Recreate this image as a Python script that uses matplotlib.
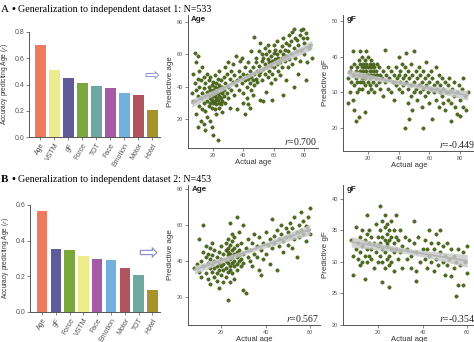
import numpy as np
import matplotlib
matplotlib.use("Agg")
import matplotlib.pyplot as plt

plt.rcParams['font.family'] = ['Liberation Sans', 'DejaVu Sans']
plt.rcParams['mathtext.fontset'] = 'stix'

W, H = 474, 342

# ===== Bar data =====
labels_a = ["Age", "VSTM", "gF", "Force", "TOT", "Face", "Emotion", "Motor", "Hotel"]
values_a = [0.70, 0.51, 0.45, 0.41, 0.385, 0.37, 0.335, 0.32, 0.205]
labels_b = ["Age", "gF", "Force", "VSTM", "Face", "Emotion", "Motor", "TOT", "Hotel"]
values_b = [0.565, 0.355, 0.35, 0.315, 0.295, 0.29, 0.245, 0.21, 0.125]

task_colors = {
    "Age": "#F07A5D", "VSTM": "#ECEC8C", "gF": "#5E5A9C", "Force": "#7AA83C",
    "TOT": "#6DA9A1", "Face": "#A65BA6", "Emotion": "#72B1DD", "Motor": "#B0545E",
    "Hotel": "#A8922A",
}

# ===== Scatter data (actual age, predicted) =====
age_a = [
    (6, 36), (7, 31), (7, 48), (8, 61), (8, 42), (9, 55), (9, 23), (9, 38), (10, 59), (10, 34),
    (10, 15), (10, 45), (11, 28), (11, 50), (11, 40), (12, 19), (12, 33), (12, 44), (13, 36), (13, 26),
    (13, 52), (14, 17), (14, 30), (14, 39), (14, 46), (15, 13), (15, 34), (15, 42), (15, 25), (16, 37),
    (16, 31), (16, 48), (16, 21), (17, 35), (17, 40), (17, 28), (17, 44), (18, 33), (18, 38), (18, 30),
    (18, 19), (18, 46), (19, 36), (19, 32), (19, 41), (19, 27), (19, 15), (20, 34), (20, 38), (20, 30),
    (20, 43), (20, 10), (20, 36), (21, 35), (21, 40), (21, 31), (21, 26), (21, 47), (22, 33), (22, 37),
    (22, 29), (22, 42), (22, 23), (23, 36), (23, 32), (23, 7), (23, 39), (23, 45), (24, 34), (24, 30),
    (24, 41), (24, 27), (24, 50), (25, 37), (25, 33), (25, 44), (25, 29), (26, 36), (26, 40), (26, 31),
    (26, 24), (27, 38), (27, 46), (27, 34), (28, 42), (28, 30), (28, 52), (29, 36), (29, 48), (30, 40),
    (30, 33), (30, 55), (31, 27), (31, 45), (32, 50), (32, 38), (33, 43), (33, 54), (34, 35), (34, 47),
    (35, 59), (35, 41), (36, 26), (36, 44), (37, 38), (37, 50), (38, 46), (38, 56), (39, 42), (39, 58),
    (40, 36), (40, 48), (40, 30), (41, 44), (41, 23), (41, 52), (42, 40), (42, 47), (42, 33), (43, 45),
    (43, 29), (43, 55), (44, 42), (44, 50), (44, 27), (45, 38), (45, 46), (45, 62), (46, 44), (46, 52),
    (46, 35), (47, 48), (47, 71), (47, 41), (48, 55), (48, 45), (48, 58), (49, 50), (49, 43), (50, 62),
    (50, 47), (50, 53), (51, 67), (51, 32), (51, 49), (52, 56), (52, 44), (52, 60), (53, 51), (53, 31),
    (53, 58), (54, 64), (54, 48), (54, 54), (55, 37), (55, 52), (55, 60), (56, 57), (56, 46), (56, 66),
    (57, 50), (57, 55), (57, 62), (58, 53), (58, 42), (58, 59), (59, 32), (59, 56), (59, 48), (60, 61),
    (60, 52), (60, 66), (61, 57), (61, 45), (61, 63), (62, 54), (62, 60), (62, 68), (63, 50), (63, 58),
    (64, 62), (64, 47), (64, 55), (65, 65), (65, 58), (65, 52), (66, 35), (66, 60), (66, 70), (67, 56),
    (67, 63), (68, 44), (68, 67), (68, 59), (69, 62), (69, 52), (70, 66), (70, 72), (70, 57), (71, 60),
    (71, 68), (72, 54), (72, 74), (73, 40), (73, 64), (73, 76), (74, 58), (74, 70), (75, 69), (75, 62),
    (76, 48), (76, 66), (77, 72), (77, 56), (78, 63), (78, 75), (79, 70), (79, 76), (80, 60), (80, 67),
    (81, 73), (81, 44), (82, 55), (82, 70), (83, 64), (84, 66), (85, 58),
]

gf_a = [
    (7, 27), (7, 34), (8, 36), (8, 30), (9, 33), (9, 37), (10, 41.5), (10, 28), (10, 35), (11, 25),
    (11, 32), (11, 38), (12, 22), (12, 34), (12, 36), (13, 30), (13, 37), (13, 33), (14, 23), (14, 35),
    (14, 39), (14, 31), (15, 41.5), (15, 36), (15, 33), (15, 38), (16, 34), (16, 37), (16, 31), (16, 40),
    (17, 35), (17, 38), (17, 33), (17, 36), (18, 24.5), (18, 37), (18, 34), (18, 39), (18, 32), (19, 41.5),
    (19, 36), (19, 35), (19, 38), (20, 33), (20, 37), (20, 40), (20, 35), (20, 30), (21, 36), (21, 38),
    (21, 34), (21, 32), (22, 39), (22, 35), (22, 37), (22, 31), (23, 36), (23, 33), (23, 38), (24, 35),
    (24, 30), (24, 37), (25, 34), (25, 36), (25, 32), (26, 38), (26, 35), (27, 33), (27, 37), (28, 31),
    (28, 35), (29, 34), (30, 36), (30, 29), (31, 42), (31, 33), (32, 35), (33, 31), (33, 37), (34, 34),
    (35, 36), (35, 30), (36, 33), (37, 35), (37, 28), (38, 32), (38, 37), (39, 34), (40, 40), (40, 31),
    (40, 35), (41, 33), (41, 36), (42, 38), (42, 30), (43, 34), (43, 32), (44, 20), (44, 37), (44, 35),
    (45, 41), (45, 33), (46, 31), (46, 36), (46, 27), (47, 22.5), (47, 34), (48, 38), (48, 32), (48, 29),
    (49, 35), (49, 25), (50, 41.5), (50, 33), (50, 30), (51, 36), (51, 31), (52, 34), (52, 28), (53, 37),
    (53, 32), (54, 30), (54, 35), (55, 33), (55, 26), (56, 20), (56, 36), (56, 31), (57, 34), (57, 29),
    (58, 32), (58, 38.5), (59, 35), (59, 30), (60, 33), (60, 27), (61, 31), (61, 36), (62, 22.5), (62, 34),
    (63, 30), (63, 32), (64, 37), (64, 28), (65, 33), (65, 31), (66, 35), (66, 26), (67, 30), (67, 32),
    (68, 34), (68, 29), (69, 27), (69, 31), (70, 33), (70, 25), (71, 30), (72, 32), (72, 28), (73, 34),
    (73, 30), (74, 22), (74, 27), (75, 31), (76, 29), (76, 33), (77, 26), (78, 30), (78, 24), (79, 32),
    (80, 23.5), (80, 28), (81, 31), (82, 34), (82, 26), (83, 29), (84, 25), (85, 30),
]

age_b = [
    (8, 36), (9, 38), (10, 52), (10, 34), (11, 31), (11, 40), (12, 60), (12, 45), (12, 37), (13, 42),
    (13, 33), (13, 48), (14, 39), (14, 30), (14, 44), (15, 36), (15, 41), (15, 27), (15, 47), (16, 38),
    (16, 34), (16, 43), (16, 50), (17, 40), (17, 31), (17, 36), (17, 46), (18, 37), (18, 42), (18, 29),
    (18, 33), (19, 45), (19, 39), (19, 35), (19, 25), (20, 41), (20, 37), (20, 48), (20, 32), (21, 44),
    (21, 38), (21, 28), (21, 35), (22, 46), (22, 40), (22, 36), (22, 50), (22, 31), (23, 43), (23, 39),
    (23, 45), (23, 47), (23, 18.5), (23, 34), (23, 52), (24, 41), (24, 37), (24, 44), (24, 49), (24, 61),
    (24, 28), (24, 35), (25, 42), (25, 46), (25, 39), (25, 33), (25, 51), (25, 55), (26, 40), (26, 44),
    (26, 47), (26, 37), (26, 30), (26, 53), (27, 42), (27, 45), (27, 38), (27, 64), (27, 49), (27, 35),
    (28, 43), (28, 40), (28, 46), (28, 56), (29, 41), (29, 37), (29, 50), (30, 44), (30, 24), (30, 60),
    (30, 39), (31, 22), (31, 47), (32, 42), (32, 52), (33, 40), (33, 46), (34, 50), (34, 37), (35, 44),
    (35, 55), (36, 42), (36, 48), (37, 35), (37, 53), (38, 32), (38, 46), (39, 50), (39, 41), (40, 56),
    (40, 44), (41, 49), (42, 52), (42, 38), (43, 63), (43, 47), (44, 54), (44, 50), (45, 35), (45, 57),
    (46, 52), (46, 48), (47, 55), (47, 60), (48, 51), (48, 45), (49, 58), (49, 53), (50, 49), (50, 56),
    (51, 61), (51, 54), (52, 58), (52, 47), (53, 52), (53, 64), (54, 42), (54, 56), (55, 60), (55, 53),
    (56, 67), (56, 57), (57, 55), (57, 62), (58, 59), (58, 51), (59, 64), (59, 57), (60, 69), (60, 55),
]

gf_b = [
    (8, 33.5), (9, 31), (9, 28), (10, 35.5), (10, 32), (11, 30.5), (11, 33), (12, 29.5), (12, 34), (12, 31.5),
    (13, 35), (13, 32.5), (13, 30), (14, 27.3), (14, 33.5), (14, 31), (15, 34.5), (15, 32), (15, 30), (15, 37.5),
    (16, 33), (16, 31), (16, 35), (17, 32), (17, 34), (17, 30.5), (18, 29), (18, 33), (19, 31.5), (19, 36),
    (20, 34), (20, 30), (20, 32.5), (21, 35), (21, 33), (21, 31), (21, 38.8), (22, 34), (22, 32), (22, 36.5),
    (22, 30), (22, 26.8), (23, 33.5), (23, 35.5), (23, 31.5), (23, 29), (23, 37.5), (24, 34.5), (24, 32.5), (24, 30.5),
    (24, 36), (24, 33), (25, 35), (25, 31), (25, 26), (25, 33.5), (25, 29.5), (26, 34), (26, 32), (26, 36.5),
    (26, 30), (27, 33), (27, 35), (27, 31.5), (27, 28.5), (28, 37.5), (28, 34), (28, 32), (29, 30.5), (29, 33.5),
    (30, 35), (30, 31.5), (31, 32.5), (31, 29), (32, 34), (33, 30.5), (33, 32), (34, 33.5), (35, 31), (35, 29),
    (36, 33), (36, 36.5), (37, 28.5), (37, 27), (37, 31.5), (38, 34), (39, 30), (40, 32), (41, 30.5), (41, 33.5),
    (42, 32), (42, 29), (43, 35), (43, 31), (44, 33), (44, 30), (45, 32), (45, 28.5), (46, 34.5), (46, 30.5),
    (47, 33), (47, 29.5), (48, 31.5), (48, 35), (49, 30), (49, 32.5), (50, 28), (50, 31), (51, 33), (51, 29.5),
    (52, 30.5), (53, 27.8), (53, 32), (54, 31), (54, 29), (55, 24.6), (55, 30), (56, 26.3), (56, 32), (57, 29.5),
    (58, 26.3), (58, 31.5), (59, 30), (60, 28.2), (60, 32.5),
]

r_labels = ["r=0.700", "r=-0.449", "r=0.567", "r=-0.354"]

DOT = "#4E6B1E"
SPINE = "#555555"


def box(left, top, right, bottom):
    # pixel box -> figure fraction
    return [left / W, 1 - bottom / H, (right - left) / W, (bottom - top) / H]


def style_axes(ax, tick_size):
    for s in ["top", "right"]:
        ax.spines[s].set_visible(False)
    for s in ["left", "bottom"]:
        ax.spines[s].set_color(SPINE)
        ax.spines[s].set_linewidth(0.7)
    ax.tick_params(colors=SPINE, labelcolor="#555555", labelsize=tick_size,
                   length=2, width=0.5, pad=1.5)


def bar_panel(rect, labels, values, ymax, yticks, xlim):
    ax = fig.add_axes(rect)
    x = np.arange(len(labels))
    ax.bar(x, values, width=0.76, color=[task_colors[l] for l in labels])
    ax.set_xlim(*xlim)
    ax.set_ylim(0, ymax)
    ax.set_yticks(yticks)
    ax.set_yticklabels([f"{t:.1f}" for t in yticks])
    ax.set_xticks(x)
    ax.set_xticklabels(labels, rotation=60, ha="right", rotation_mode="anchor")
    style_axes(ax, 5)
    ax.set_ylabel(r"Accuracy predicting Age ($\mathit{r}$)", fontsize=4.8,
                  color="#333333", labelpad=3)
    return ax


def scatter_panel(rect, pts, xlim, ylim, xticks, yticks, ylabel, tag, rtext):
    ax = fig.add_axes(rect)
    pts = np.array(pts, dtype=float)
    x, y = pts[:, 0], pts[:, 1]
    # linear fit + 95% band
    b1, b0 = np.polyfit(x, y, 1)
    xs = np.linspace(x.min(), x.max(), 100)
    ys = b0 + b1 * xs
    resid = y - (b0 + b1 * x)
    s = np.sqrt(np.sum(resid ** 2) / (len(x) - 2))
    se = s * np.sqrt(1 / len(x) + (xs - x.mean()) ** 2 / np.sum((x - x.mean()) ** 2))
    ax.fill_between(xs, ys - 1.96 * se, ys + 1.96 * se, color="#c8c8c8", alpha=0.8,
                    lw=0, zorder=3)
    ax.plot(xs, ys, color="#b5b5b5", lw=1.2, zorder=4)
    ax.scatter(x, y, s=6, color=DOT, edgecolors="#3b5212", linewidths=0.3, zorder=2)
    ax.set_xlim(*xlim)
    ax.set_ylim(*ylim)
    ax.set_xticks(xticks)
    ax.set_yticks(yticks)
    style_axes(ax, 4)
    ax.set_xlabel("Actual age", fontsize=5.5, color="#333333", labelpad=1)
    ax.set_ylabel(ylabel, fontsize=5.8, color="#333333", labelpad=2)
    ax.text(0.025, 0.995, tag, transform=ax.transAxes, fontsize=5.8,
            fontweight="bold", va="top", ha="left", color="#222222")
    ax.text(0.995, 0.01, r"$\mathit{r}$" + rtext[1:], transform=ax.transAxes,
            fontsize=7, family="Liberation Serif", ha="right", va="bottom",
            color="#222222")
    return ax


fig = plt.figure(figsize=(W / 100, H / 100), dpi=100)

# ===== Row A =====
fig.text(1 / W, 1 - 12 / H, "A", fontsize=8, family="Liberation Serif")
fig.text(11 / W, 1 - 12 / H, "\u2022", fontsize=7, family="DejaVu Sans")
fig.text(18 / W, 1 - 12 / H, "Generalization to independent dataset 1: N=533",
         fontsize=7.2, family="Liberation Serif")
bar_panel(box(29, 32, 160, 137), labels_a, values_a, 0.8,
          [0.0, 0.2, 0.4, 0.6, 0.8], (-0.81, 8.55))
scatter_panel(box(188, 15, 318, 148), age_a, (3.5, 89), (2, 84.4),
              [20, 40, 60, 80], [20, 40, 60, 80], "Predictive age", "Age", r_labels[0])
scatter_panel(box(343, 15, 476, 151), gf_a, (3.7, 90.4), (13.6, 51.7),
              [20, 40, 60, 80], [20, 30, 40, 50], "Predictive gF", "gF", r_labels[1])

# ===== Row B =====
fig.text(1 / W, 1 - 182 / H, "B", fontsize=8, family="Liberation Serif", fontweight="bold")
fig.text(11 / W, 1 - 182 / H, "\u2022", fontsize=7, family="DejaVu Sans")
fig.text(18 / W, 1 - 182 / H, "Generalization to independent dataset 2: N=453",
         fontsize=7.2, family="Liberation Serif")
bar_panel(box(30, 205, 160, 312), labels_b, values_b, 0.6,
          [0.0, 0.2, 0.4, 0.6], (-0.87, 8.55))
scatter_panel(box(188, 185, 320, 325), age_b, (5.1, 64.5), (4.4, 82),
              [20, 40, 60], [20, 40, 60, 80], "Predictive age", "Age", r_labels[2])
scatter_panel(box(343, 185, 476, 325), gf_b, (4.3, 64), (20, 42.2),
              [20, 40, 60], [20, 25, 30, 35, 40], "Predictive gF", "gF", r_labels[3])

# ===== Arrows between bars and scatters =====
for (xc, yy, size) in [(152, 76, 13), (148, 253, 17)]:
    fig.text(xc / W, 1 - yy / H, "\u21e8", fontsize=size, family="DejaVu Sans",
             color="#8a8fcc", ha="center", va="center")

fig.savefig("out.png", dpi=100)
